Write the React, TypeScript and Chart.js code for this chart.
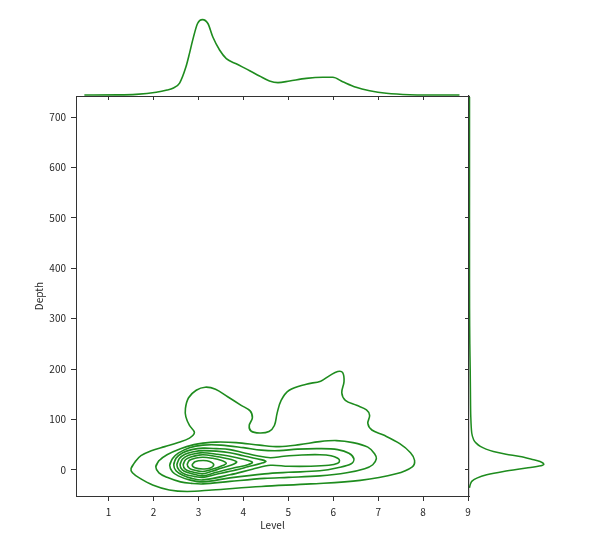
import React, { useEffect, useRef } from 'react';
import { Chart, registerables } from 'chart.js';

Chart.register(...registerables);

// ---------- data ----------
const xTicks = [1, 2, 3, 4, 5, 6, 7, 8, 9];
const yTicks = [0, 100, 200, 300, 400, 500, 600, 700];
const X_MIN = 0.274;
const X_MAX = 9.022;
const Y_MIN = -52;
const Y_MAX = 742;
const X_LABEL = 'Level';
const Y_LABEL = 'Depth';

// marginal KDE of Level
const levelGrid = [0.46, 1.2, 1.61, 2.06, 2.3, 2.43, 2.58, 2.72, 2.8, 2.87, 2.98, 3.09, 3.21, 3.32, 3.47, 3.62, 3.84, 4.14, 4.36, 4.58, 4.77, 5.03, 5.4, 5.77, 5.99, 6.21, 6.51, 6.81, 7.18, 7.7, 8.2, 8.81];
const levelDensity = [0, 0.001, 0.005, 0.021, 0.038, 0.052, 0.092, 0.215, 0.32, 0.42, 0.55, 0.58, 0.55, 0.446, 0.346, 0.28, 0.24, 0.187, 0.146, 0.108, 0.095, 0.108, 0.128, 0.136, 0.136, 0.102, 0.059, 0.033, 0.013, 0.002, 0.0003, 0];

// marginal KDE of Depth
const depthGrid = [-36, -30, -23, -16.5, -10, -3.4, 3.4, 8, 11, 16.5, 21, 26.4, 31, 36.4, 41, 46.3, 53, 59.6, 73, 106, 150, 200, 250, 320, 420, 560, 740];
const depthDensity = [0, 0.0002, 0.0007, 0.0023, 0.0054, 0.0107, 0.0179, 0.0225, 0.0234, 0.0222, 0.0195, 0.0159, 0.0115, 0.0075, 0.0052, 0.0034, 0.0021, 0.0013, 0.0007, 0.0004, 0.0003, 0.00022, 0.0001, 0.00002, 0, 0, 0];

// joint KDE contour lines, [level, depth]
const contour1 = [[1.5, 3], [1.6, 17], [1.72, 28], [1.95, 38], [2.25, 46], [2.55, 54], [2.8, 63], [2.91, 74], [2.8, 88], [2.72, 105], [2.71, 122], [2.78, 143], [2.95, 158], [3.15, 164], [3.38, 160], [3.65, 145], [3.95, 128], [4.15, 117], [4.2, 103], [4.13, 88], [4.17, 77], [4.36, 73], [4.57, 76], [4.69, 88], [4.75, 112], [4.84, 138], [5.02, 158], [5.4, 170], [5.72, 176], [5.92, 187], [6.1, 195], [6.21, 193], [6.24, 175], [6.19, 153], [6.27, 138], [6.52, 128], [6.74, 119], [6.81, 108], [6.77, 92], [6.86, 79], [7.12, 69], [7.48, 52], [7.72, 34], [7.81, 19], [7.76, 6], [7.4, -8], [6.6, -21], [5.5, -28], [4.4, -33], [3.3, -40], [2.75, -43], [2.35, -40], [1.98, -30], [1.7, -17], [1.53, -6], [1.5, 3]];
const contour2 = [[2.05, 6], [2.12, 18], [2.3, 30], [2.6, 42], [2.9, 50], [3.1, 53], [3.4, 55], [3.84, 54], [4.36, 49], [4.8, 46], [5.25, 50], [5.7, 56], [6.07, 58], [6.44, 54], [6.77, 45], [6.92, 32], [6.96, 22], [6.88, 10], [6.7, 2], [6.3, -6], [5.7, -12], [5.0, -15], [4.47, -17], [3.7, -23], [3.1, -28], [2.85, -27], [2.6, -24], [2.3, -15], [2.12, -6], [2.05, 6]];
const contour3 = [[2.36, 9], [2.42, 22], [2.55, 33], [2.8, 44], [3.1, 49], [3.5, 49], [4.0, 44], [4.4, 39], [4.8, 38], [5.2, 41], [5.7, 42], [6.1, 40], [6.35, 33], [6.46, 22], [6.4, 12], [6.1, 4], [5.7, -2], [5.0, -5], [4.47, -8], [3.7, -16], [3.1, -24], [2.8, -20], [2.55, -12], [2.42, -4], [2.36, 9]];
const contour4 = [[2.45, 10], [2.5, 23], [2.65, 34], [2.85, 40], [3.1, 43], [3.4, 42], [3.7, 40], [4.0, 34], [4.3, 28], [4.6, 24], [4.9, 27], [5.3, 29.5], [5.7, 30], [5.95, 28], [6.1, 23], [6.14, 18], [6.1, 13], [5.9, 9], [5.5, 7], [5.0, 7], [4.6, 9], [4.2, 1], [3.7, -10], [3.1, -20], [2.85, -17], [2.65, -11], [2.5, -2], [2.45, 10]];
const contour5 = [[2.52, 10], [2.57, 22], [2.7, 31], [2.9, 36], [3.1, 38], [3.4, 37], [3.7, 34], [4.0, 28], [4.3, 22], [4.5, 17], [4.4, 13], [4.1, 6], [3.7, -3], [3.4, -9], [3.1, -15], [2.9, -13], [2.7, -9], [2.57, -1], [2.52, 10]];
const contour6 = [[2.59, 10], [2.64, 21], [2.78, 29], [2.95, 32.5], [3.1, 34], [3.4, 31], [3.7, 27], [4.0, 21], [4.2, 15], [4.1, 10], [3.8, 4], [3.4, -5], [3.1, -12], [2.95, -10], [2.78, -6], [2.64, 0], [2.59, 10]];
const contour7 = [[2.66, 10], [2.71, 20], [2.85, 26], [3.0, 29], [3.1, 30], [3.3, 28], [3.6, 23], [3.85, 16], [3.75, 10], [3.5, 3], [3.3, -3], [3.1, -8], [3.0, -7], [2.85, -4], [2.71, 1], [2.66, 10]];
const contour8 = [[2.75, 11], [2.8, 19], [2.95, 23.5], [3.1, 25], [3.3, 23], [3.5, 19], [3.62, 13], [3.5, 7], [3.3, 1], [3.1, -3.4], [2.95, -1.5], [2.8, 3], [2.75, 11]];
const contour9 = [[2.86, 10], [2.92, 16], [3.1, 18.5], [3.25, 16.5], [3.34, 10], [3.25, 3], [3.1, 1.5], [2.92, 4], [2.86, 10]];
const contours = [contour1, contour2, contour3, contour4, contour5, contour6, contour7, contour8, contour9];

// ---------- style ----------
const GREEN = 'rgb(30,140,30)';
const AXIS = '#333333';
const TEXT = '#262626';
const FONT = { family: '"Noto Sans CJK SC", "DejaVu Sans", sans-serif', size: 10 };
const W = 598;
const H = 542;
const PLOT_L = 76;
const PLOT_R = 469;
const PLOT_T = 96;
const PLOT_B = 496;
const MARG_TOP = 10;
const MARG_RIGHT = 565;

const closeLoop = (pts: number[][]) => [...pts, pts[1]].map(([x, y]) => ({ x, y }));

const canvasStyle: React.CSSProperties = { position: 'absolute', left: 0, top: 0, width: W, height: H };

export default function App() {
  const mainRef = useRef<HTMLCanvasElement>(null);
  const topRef = useRef<HTMLCanvasElement>(null);
  const rightRef = useRef<HTMLCanvasElement>(null);

  useEffect(() => {
    const charts: Chart[] = [];

    // main joint plot
    charts.push(new Chart(mainRef.current!, {
      type: 'scatter',
      data: {
        datasets: contours.map((c) => ({
          data: closeLoop(c),
          showLine: true,
          borderColor: GREEN,
          backgroundColor: GREEN,
          borderWidth: 1.6,
          pointRadius: 0,
          tension: 0.35,
          fill: false,
        })),
      },
      options: {
        responsive: false,
        animation: false,
        events: [],
        layout: { padding: { left: 0, top: PLOT_T, right: W - PLOT_R, bottom: 0 } },
        plugins: { legend: { display: false }, tooltip: { enabled: false } },
        scales: {
          x: {
            type: 'linear',
            min: X_MIN,
            max: X_MAX,
            afterFit: (s: any) => { s.height = H - PLOT_B; },
            afterBuildTicks: (s: any) => { s.ticks = xTicks.map((v) => ({ value: v })); },
            grid: { display: true, drawOnChartArea: false, drawTicks: true, tickLength: 5, color: AXIS, lineWidth: 1 },
            border: { display: true, color: AXIS, width: 1 },
            ticks: { padding: 5, font: FONT, color: TEXT, maxRotation: 0 },
            title: { display: true, text: X_LABEL, font: FONT, color: TEXT, padding: { top: 0, bottom: 11 } },
          },
          y: {
            type: 'linear',
            min: Y_MIN,
            max: Y_MAX,
            afterFit: (s: any) => { s.width = PLOT_L; },
            afterBuildTicks: (s: any) => { s.ticks = yTicks.map((v) => ({ value: v })); },
            grid: { display: true, drawOnChartArea: false, drawTicks: true, tickLength: 5, color: AXIS, lineWidth: 1 },
            border: { display: true, color: AXIS, width: 1 },
            ticks: { padding: 5, font: FONT, color: TEXT },
            title: { display: true, text: Y_LABEL, font: FONT, color: TEXT, padding: { top: 33, bottom: 0 } },
          },
        },
      },
    } as any));

    // top marginal
    charts.push(new Chart(topRef.current!, {
      type: 'line',
      data: {
        datasets: [{
          data: levelGrid.map((x, i) => ({ x, y: levelDensity[i] })),
          borderColor: GREEN,
          borderWidth: 1.6,
          pointRadius: 0,
          cubicInterpolationMode: 'monotone',
          fill: false,
          clip: false,
        }],
      },
      options: {
        responsive: false,
        animation: false,
        events: [],
        layout: { padding: { left: PLOT_L, top: MARG_TOP, right: W - PLOT_R, bottom: H - PLOT_T - 20 } },
        plugins: { legend: { display: false }, tooltip: { enabled: false } },
        scales: {
          x: {
            type: 'linear',
            min: X_MIN,
            max: X_MAX,
            afterFit: (s: any) => { s.height = 20; },
            afterBuildTicks: (s: any) => { s.ticks = xTicks.map((v) => ({ value: v })); },
            grid: { display: true, drawOnChartArea: false, drawTicks: true, tickLength: 4, color: AXIS, lineWidth: 1 },
            border: { display: true, color: AXIS, width: 1 },
            ticks: { display: false },
          },
          y: {
            type: 'linear',
            display: false,
            min: -0.0077,
            max: 0.654,
          },
        },
      },
    } as any));

    // right marginal
    charts.push(new Chart(rightRef.current!, {
      type: 'scatter',
      data: {
        datasets: [{
          data: depthGrid.map((y, i) => ({ x: depthDensity[i], y })),
          showLine: true,
          borderColor: GREEN,
          borderWidth: 1.5,
          pointRadius: 0,
          tension: 0.3,
          fill: false,
          clip: false,
        }],
      },
      options: {
        responsive: false,
        animation: false,
        events: [],
        layout: { padding: { left: PLOT_R - 20, top: PLOT_T, right: W - MARG_RIGHT, bottom: H - PLOT_B } },
        plugins: { legend: { display: false }, tooltip: { enabled: false } },
        scales: {
          x: {
            type: 'linear',
            display: false,
            min: -0.00016,
            max: 0.03004,
          },
          y: {
            type: 'linear',
            min: Y_MIN,
            max: Y_MAX,
            afterFit: (s: any) => { s.width = 20; },
            afterBuildTicks: (s: any) => { s.ticks = yTicks.map((v) => ({ value: v })); },
            grid: { display: true, drawOnChartArea: false, drawTicks: true, tickLength: 4, color: AXIS, lineWidth: 1 },
            border: { display: true, color: AXIS, width: 1.2, z: 1 },
            ticks: { display: false },
          },
        },
      },
    } as any));

    return () => { charts.forEach((c) => c.destroy()); };
  }, []);

  return (
    <div style={{ position: 'absolute', left: 0, top: 0, width: W, height: H, background: '#ffffff' }}>
      <canvas ref={mainRef} width={W} height={H} style={canvasStyle} />
      <canvas ref={topRef} width={W} height={H} style={canvasStyle} />
      <canvas ref={rightRef} width={W} height={H} style={canvasStyle} />
    </div>
  );
}
